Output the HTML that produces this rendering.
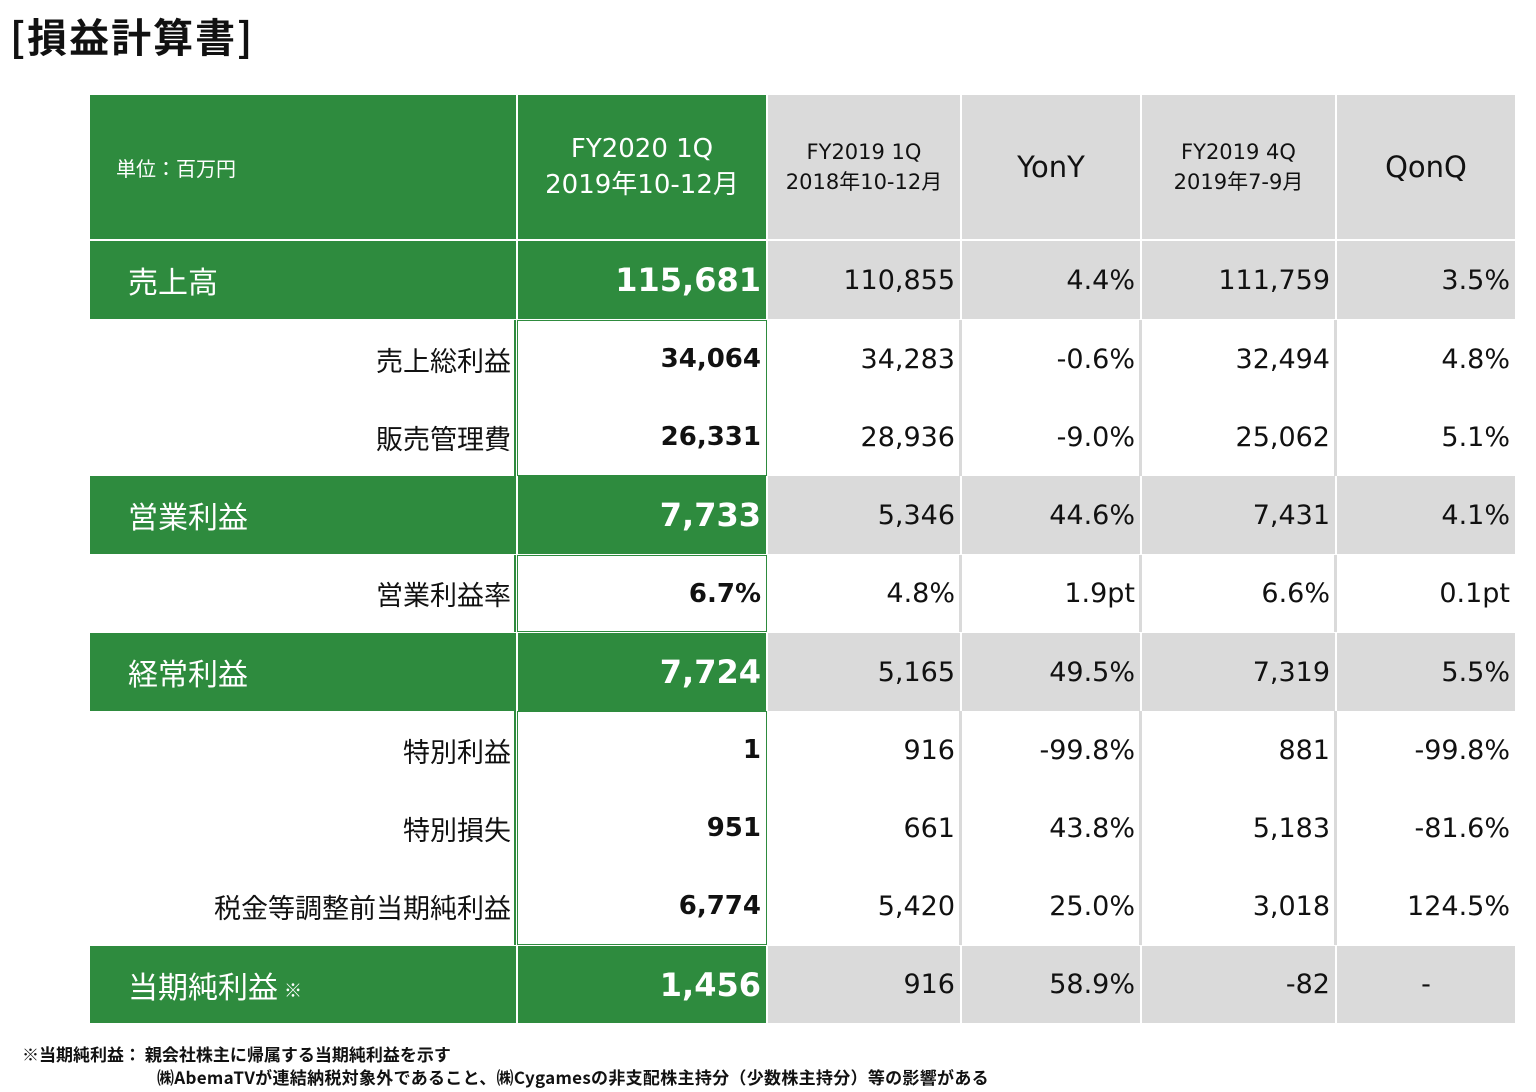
<!DOCTYPE html>
<html><head><meta charset="utf-8"><style>
body{margin:0;width:1536px;height:1092px;background:#fff;position:relative;overflow:hidden;font-family:"DejaVu Sans","Noto Sans CJK JP",sans-serif;}
.c{position:absolute;box-sizing:border-box;display:flex;align-items:center;justify-content:flex-end;padding-right:5px;font-size:27px;color:#111;}
.g{background:#2e8b3e;color:#fff;}
.y{background:#dadada;}
.w1{border:1px solid #2e8b3e;}
.wl{border-right:3px solid #dadada;}
.b{font-weight:bold;font-size:26px;}
.big{font-size:32px;font-weight:bold;color:#fff;}
.lab{justify-content:flex-start;padding-left:38px;font-size:30px;font-family:"Noto Sans CJK JP",sans-serif;}
.j{font-family:"Noto Sans CJK JP",sans-serif;font-size:27px;}
.h{justify-content:center;padding:0;text-align:center;flex-direction:column;}
</style></head><body>
<div style="position:absolute;left:10px;top:6px;font-size:40px;font-weight:bold;color:#111;letter-spacing:2px;font-family:'Noto Sans CJK JP',sans-serif;">[損益計算書]</div>

<div class="c g" style="left:90px;top:95px;width:426px;height:144px;justify-content:flex-start;padding-left:26px;font-size:20px;">単位：百万円</div>
<div class="c g h" style="left:518px;top:95px;width:248px;height:144px;font-size:26px;line-height:36px;">FY2020 1Q<br>2019年10-12月</div>
<div class="c y h" style="left:768px;top:95px;width:192px;height:144px;font-size:21px;line-height:30px;">FY2019 1Q<br>2018年10-12月</div>
<div class="c y h" style="left:962px;top:95px;width:178px;height:144px;font-size:29px;">YonY</div>
<div class="c y h" style="left:1142px;top:95px;width:193px;height:144px;font-size:21px;line-height:30px;">FY2019 4Q<br>2019年7-9月</div>
<div class="c y h" style="left:1337px;top:95px;width:178px;height:144px;font-size:29px;">QonQ</div>

<div class="c g lab" style="left:90px;top:241px;width:426px;height:78px;">売上高</div>
<div class="c g big" style="left:518px;top:241px;width:248px;height:78px;">115,681</div>
<div class="c y" style="left:768px;top:241px;width:192px;height:78px;">110,855</div>
<div class="c y" style="left:962px;top:241px;width:178px;height:78px;">4.4%</div>
<div class="c y" style="left:1142px;top:241px;width:193px;height:78px;">111,759</div>
<div class="c y" style="left:1337px;top:241px;width:178px;height:78px;">3.5%</div>

<div class="c" style="left:90px;top:320px;width:426px;height:156px;border-right:2px solid #2e8b3e;"></div>
<div class="c w1" style="left:517px;top:320px;width:250px;height:156px;"></div>
<div class="c j" style="left:90px;top:320px;width:426px;height:78px;">売上総利益</div>
<div class="c b" style="left:518px;top:320px;width:248px;height:78px;">34,064</div>
<div class="c wl" style="left:768px;top:320px;width:194px;height:156px;"></div>
<div class="c wl" style="left:962px;top:320px;width:180px;height:156px;"></div>
<div class="c wl" style="left:1142px;top:320px;width:195px;height:156px;"></div>
<div class="c" style="left:768px;top:320px;width:192px;height:78px;">34,283</div>
<div class="c" style="left:962px;top:320px;width:178px;height:78px;">-0.6%</div>
<div class="c" style="left:1142px;top:320px;width:193px;height:78px;">32,494</div>
<div class="c" style="left:1337px;top:320px;width:178px;height:78px;">4.8%</div>

<div class="c j" style="left:90px;top:398px;width:426px;height:78px;">販売管理費</div>
<div class="c b" style="left:518px;top:398px;width:248px;height:78px;">26,331</div>
<div class="c" style="left:768px;top:398px;width:192px;height:78px;">28,936</div>
<div class="c" style="left:962px;top:398px;width:178px;height:78px;">-9.0%</div>
<div class="c" style="left:1142px;top:398px;width:193px;height:78px;">25,062</div>
<div class="c" style="left:1337px;top:398px;width:178px;height:78px;">5.1%</div>

<div class="c g lab" style="left:90px;top:476px;width:426px;height:78px;">営業利益</div>
<div class="c g big" style="left:518px;top:476px;width:248px;height:78px;">7,733</div>
<div class="c y" style="left:768px;top:476px;width:192px;height:78px;">5,346</div>
<div class="c y" style="left:962px;top:476px;width:178px;height:78px;">44.6%</div>
<div class="c y" style="left:1142px;top:476px;width:193px;height:78px;">7,431</div>
<div class="c y" style="left:1337px;top:476px;width:178px;height:78px;">4.1%</div>

<div class="c" style="left:90px;top:555px;width:426px;height:77px;border-right:2px solid #2e8b3e;"></div>
<div class="c w1" style="left:517px;top:555px;width:250px;height:77px;"></div>
<div class="c wl" style="left:768px;top:555px;width:194px;height:77px;"></div>
<div class="c wl" style="left:962px;top:555px;width:180px;height:77px;"></div>
<div class="c wl" style="left:1142px;top:555px;width:195px;height:77px;"></div>
<div class="c j" style="left:90px;top:555px;width:426px;height:77px;">営業利益率</div>
<div class="c b" style="left:518px;top:555px;width:248px;height:77px;">6.7%</div>
<div class="c" style="left:768px;top:555px;width:192px;height:77px;">4.8%</div>
<div class="c" style="left:962px;top:555px;width:178px;height:77px;">1.9pt</div>
<div class="c" style="left:1142px;top:555px;width:193px;height:77px;">6.6%</div>
<div class="c" style="left:1337px;top:555px;width:178px;height:77px;">0.1pt</div>

<div class="c g lab" style="left:90px;top:633px;width:426px;height:78px;">経常利益</div>
<div class="c g big" style="left:518px;top:633px;width:248px;height:78px;">7,724</div>
<div class="c y" style="left:768px;top:633px;width:192px;height:78px;">5,165</div>
<div class="c y" style="left:962px;top:633px;width:178px;height:78px;">49.5%</div>
<div class="c y" style="left:1142px;top:633px;width:193px;height:78px;">7,319</div>
<div class="c y" style="left:1337px;top:633px;width:178px;height:78px;">5.5%</div>

<div class="c" style="left:90px;top:711px;width:426px;height:234px;border-right:2px solid #2e8b3e;"></div>
<div class="c w1" style="left:517px;top:711px;width:250px;height:234px;"></div>
<div class="c wl" style="left:768px;top:711px;width:194px;height:234px;"></div>
<div class="c wl" style="left:962px;top:711px;width:180px;height:234px;"></div>
<div class="c wl" style="left:1142px;top:711px;width:195px;height:234px;"></div>

<div class="c j" style="left:90px;top:711px;width:426px;height:78px;">特別利益</div>
<div class="c b" style="left:518px;top:711px;width:248px;height:78px;">1</div>
<div class="c" style="left:768px;top:711px;width:192px;height:78px;">916</div>
<div class="c" style="left:962px;top:711px;width:178px;height:78px;">-99.8%</div>
<div class="c" style="left:1142px;top:711px;width:193px;height:78px;">881</div>
<div class="c" style="left:1337px;top:711px;width:178px;height:78px;">-99.8%</div>

<div class="c j" style="left:90px;top:789px;width:426px;height:78px;">特別損失</div>
<div class="c b" style="left:518px;top:789px;width:248px;height:78px;">951</div>
<div class="c" style="left:768px;top:789px;width:192px;height:78px;">661</div>
<div class="c" style="left:962px;top:789px;width:178px;height:78px;">43.8%</div>
<div class="c" style="left:1142px;top:789px;width:193px;height:78px;">5,183</div>
<div class="c" style="left:1337px;top:789px;width:178px;height:78px;">-81.6%</div>

<div class="c j" style="left:90px;top:867px;width:426px;height:78px;">税金等調整前当期純利益</div>
<div class="c b" style="left:518px;top:867px;width:248px;height:78px;">6,774</div>
<div class="c" style="left:768px;top:867px;width:192px;height:78px;">5,420</div>
<div class="c" style="left:962px;top:867px;width:178px;height:78px;">25.0%</div>
<div class="c" style="left:1142px;top:867px;width:193px;height:78px;">3,018</div>
<div class="c" style="left:1337px;top:867px;width:178px;height:78px;">124.5%</div>

<div class="c g lab" style="left:90px;top:946px;width:426px;height:77px;">当期純利益<span style="font-size:18px;margin-left:6px;margin-top:10px;">※</span></div>
<div class="c g big" style="left:518px;top:946px;width:248px;height:77px;">1,456</div>
<div class="c y" style="left:768px;top:946px;width:192px;height:77px;">916</div>
<div class="c y" style="left:962px;top:946px;width:178px;height:77px;">58.9%</div>
<div class="c y" style="left:1142px;top:946px;width:193px;height:77px;">-82</div>
<div class="c y" style="left:1337px;top:946px;width:178px;height:77px;justify-content:center;padding:0;">-</div>

<div style="position:absolute;left:22px;top:1041px;font-size:17px;font-weight:bold;color:#111;font-family:'Noto Sans CJK JP',sans-serif;">※当期純利益： 親会社株主に帰属する当期純利益を示す</div>
<div style="position:absolute;left:157px;top:1064px;font-size:17px;font-weight:bold;color:#111;font-family:'Noto Sans CJK JP',sans-serif;letter-spacing:0.3px;">㈱AbemaTVが連結納税対象外であること、㈱Cygamesの非支配株主持分（少数株主持分）等の影響がある</div>
</body></html>
